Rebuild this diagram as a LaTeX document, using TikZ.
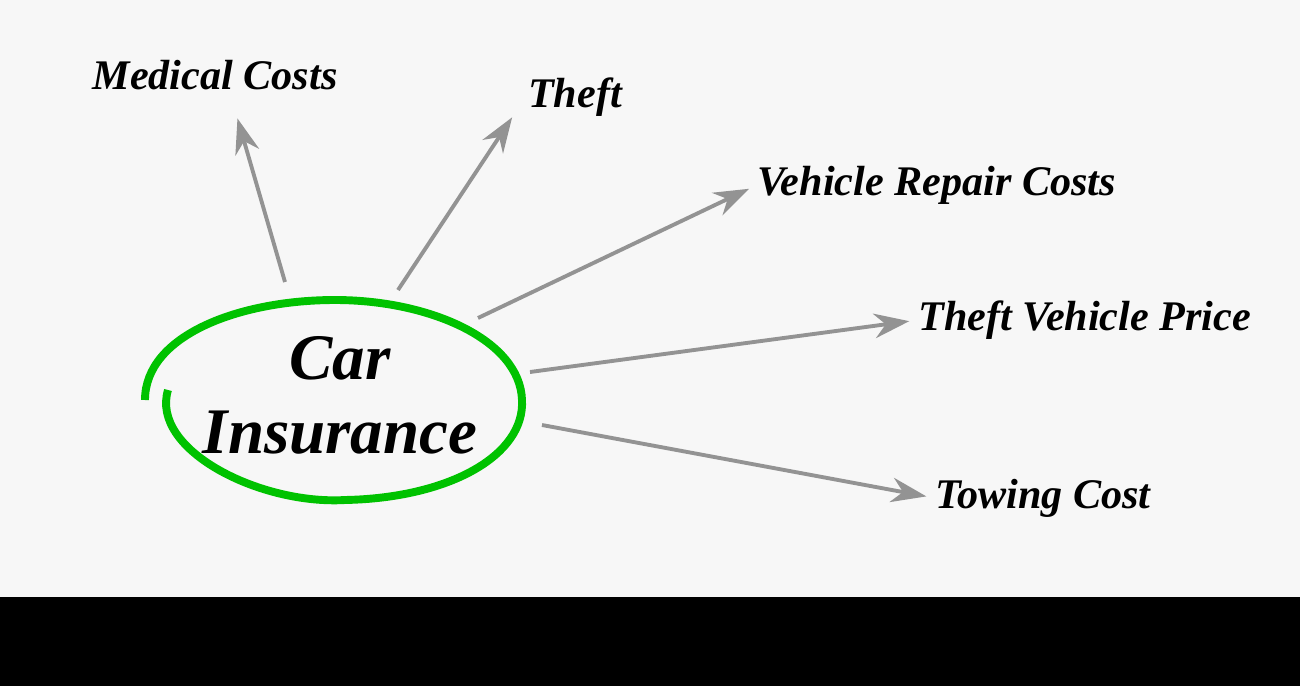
\documentclass[tikz,border=0pt]{standalone}
\usepackage{fontspec}
\setmainfont{Liberation Serif}
\usetikzlibrary{arrows.meta}
\begin{document}
\begin{tikzpicture}[x=0.02cm,y=-0.02cm,
  lbl/.style={font=\fontsize{24}{28}\selectfont\bfseries\itshape, inner sep=0pt},
  arr/.style={draw=gray!85, line width=2.2pt, shorten >=5pt, -{Stealth[length=20pt,width=14pt]}}]
\useasboundingbox (0,0) rectangle (1300,686);
\fill[white!97!black] (0,0) rectangle (1300,597);
\fill[black] (0,597) rectangle (1300,686);
\node[font=\fontsize{37}{42}\selectfont\bfseries\itshape, align=center, inner sep=0pt] (c) at (340,395) {Car\\Insurance};
\draw[green!70!black!80!green, line width=4.5pt]
  (168,390) .. controls (150,450) and (260,505) .. (345,500)
  .. controls (450,498) and (525,455) .. (522,400)
  .. controls (520,340) and (430,300) .. (335,300)
  .. controls (240,300) and (145,335) .. (145,400);
\coordinate (s1) at (285,282); \coordinate (s2) at (398,290);
\coordinate (s3) at (478,318); \coordinate (s4) at (530,372);
\coordinate (s5) at (542,425);
\node[lbl] (m) at (215,75) {Medical Costs};
\node[lbl] (t) at (575,97) {Theft};
\node[lbl, anchor=west] (v) at (757,185) {Vehicle Repair Costs};
\node[lbl, anchor=west] (p) at (918,320) {Theft Vehicle Price};
\node[lbl, anchor=west] (w) at (935,498) {Towing Cost};
\draw[arr] (s1) -- (235,110);
\draw[arr] (s2) -- (517,110);
\draw[arr] (s3) -- (v.west);
\draw[arr] (s4) -- (p.west);
\draw[arr] (s5) -- (w.west);
\end{tikzpicture}
\end{document}
